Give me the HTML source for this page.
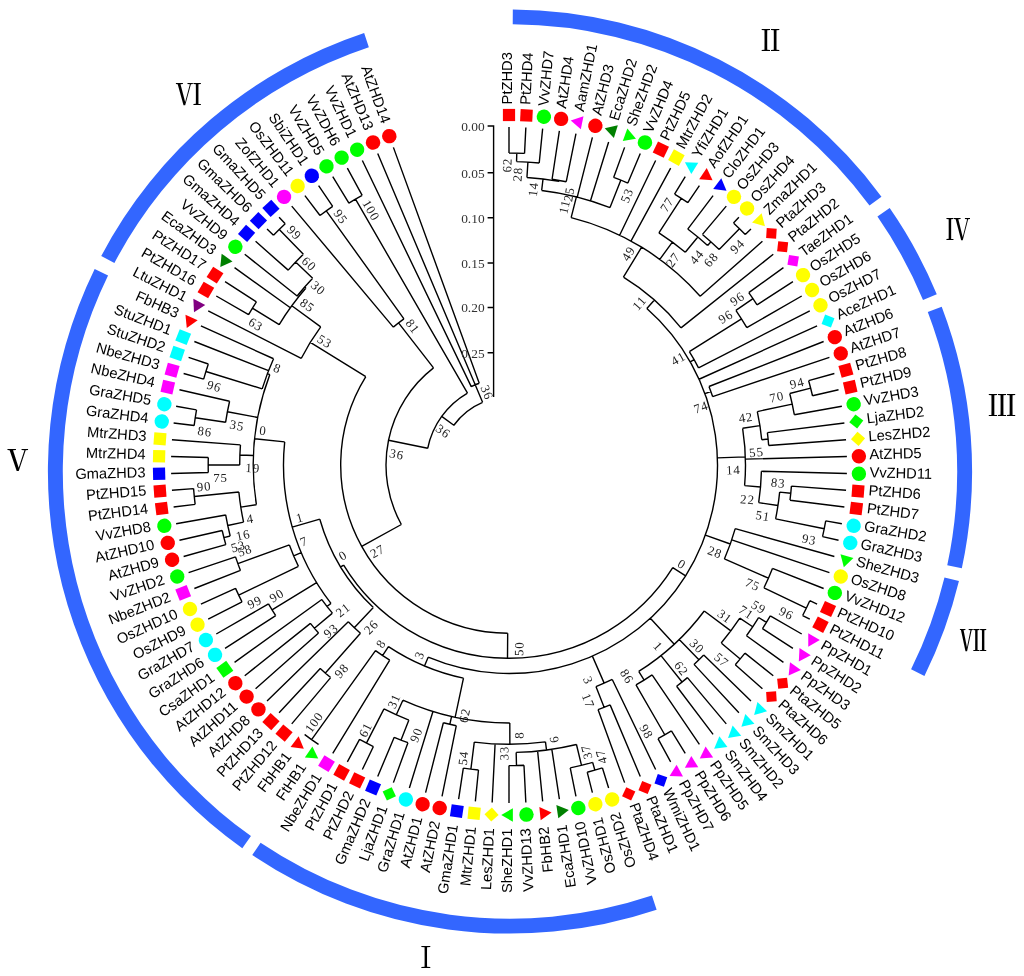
<!DOCTYPE html><html><head><meta charset="utf-8"><style>html,body{margin:0;padding:0;background:#fff;}svg{display:block}</style></head><body>
<svg width="1024" height="976" viewBox="0 0 1024 976">
<rect width="1024" height="976" fill="#fff"/>
<path fill="#3366ff" d="M512.82 9.41A462.1 462.1 0 0 1 881.46 196.63L869.48 205.5A447.2 447.2 0 0 0 512.73 24.31ZM889.68 208.1A462.1 462.1 0 0 1 936.77 294.29L923.01 300A447.2 447.2 0 0 0 877.44 216.6ZM941.7 306.65A462.1 462.1 0 0 1 961.83 568.36L947.26 565.24A447.2 447.2 0 0 0 927.78 311.97ZM958.95 580.94A462.1 462.1 0 0 1 924.44 675.88L911.08 669.29A447.2 447.2 0 0 0 944.48 577.41ZM656.63 909.72A462.1 462.1 0 0 1 252.27 855.05L260.58 842.68A447.2 447.2 0 0 0 651.9 895.59ZM242.31 848.17A462.1 462.1 0 0 1 94.67 268.93L108.06 275.46A447.2 447.2 0 0 0 250.95 836.03ZM101.24 255.98A462.1 462.1 0 0 1 364.14 33.02L368.84 47.16A447.2 447.2 0 0 0 114.42 262.93Z"/>
<g font-family="'Liberation Serif','Noto Serif CJK SC',serif" font-size="29" font-weight="500" fill="#000" text-anchor="middle">
<text x="0" y="0" transform="translate(770.4 50.6) scale(0.95 1)">Ⅱ</text>
<text x="0" y="0" transform="translate(958 239.8) scale(0.85 1)">Ⅳ</text>
<text x="0" y="0" transform="translate(1002 415.5) scale(1 1)">Ⅲ</text>
<text x="0" y="0" transform="translate(973.1 650.8) scale(0.92 1)">Ⅶ</text>
<text x="0" y="0" transform="translate(425.9 968.2) scale(0.85 1)">Ⅰ</text>
<text x="0" y="0" transform="translate(17.9 471.1) scale(1.09 1)">Ⅴ</text>
<text x="0" y="0" transform="translate(188.5 105.3) scale(0.9 1)">Ⅵ</text>
</g>
<path fill="none" stroke="#000" stroke-width="1.4" d="M453.85 425.22A68 68 0 0 1 482.59 402.34M453.85 425.22L441.68 416.44M427.7 448.3A83 83 0 0 1 467.5 393.12M427.7 448.3L388.52 440.25M401.35 524.5A123 123 0 0 1 433.52 367.89M401.35 524.5L361.7 546.41M507.69 633.29A168.3 168.3 0 0 1 365.8 376.57M507.69 633.29L507.49 658.29M672.75 567.71A193.3 193.3 0 0 1 343.67 565.15M672.75 567.71L685.63 575.79M646.84 308.56A208.5 208.5 0 0 1 428.16 657.19M646.84 308.56L654.44 299.93M623.42 277.1A220 220 0 0 1 681 327.83M623.42 277.1L641.63 247.2M571.15 217.69A255 255 0 0 1 700.19 296.27M571.15 217.69L576.39 196.84M541.67 190.44A276.5 276.5 0 0 1 610.02 207.61M541.67 190.44L543.03 179.02M526.94 177.56A288 288 0 0 1 559.01 181.38M526.94 177.56L527.91 162.09M516.57 161.59A303.5 303.5 0 0 1 539.22 163.01M516.57 161.59L516.78 153.1M509 153A312 312 0 0 1 524.55 153.39M509 153L509 127M524.55 153.39L525.85 127.42M539.22 163.01L542.65 128.68M559.01 181.38L559.18 180.39M552.07 179.23A289 289 0 0 1 566.26 181.73M552.07 179.23L559.38 130.78M566.26 181.73L575.97 133.7M577.23 197.05L592.4 137.45M590.5 200.78L608.63 142.02M610.02 207.61L620.79 180.15M613.66 177.45A306 306 0 0 1 627.86 183.03M613.66 177.45L624.6 147.38M627.86 183.03L640.29 153.54M619.64 235.25L655.65 160.47M630.95 241.05L670.65 168.16M659.78 259.36L672.38 242.18M658.91 232.9A276.3 276.3 0 0 1 685.28 252.24M658.91 232.9L681.26 198.29M674.56 194.08A317.5 317.5 0 0 1 687.85 202.67M674.56 194.08L685.25 176.59M687.85 202.67L699.4 185.73M685.28 252.24L697.85 237.07M687.73 229.05A296 296 0 0 1 707.61 245.52M687.73 229.05L713.09 195.57M707.61 245.52L710.97 241.82M702.48 234.42A301 301 0 0 1 719.17 249.52M702.48 234.42L726.26 206.08M719.17 249.52L739.42 228.76M733.46 223.09A330 330 0 0 1 745.24 234.58M733.46 223.09L738.9 217.23M745.24 234.58L750.96 229M700.19 296.27L762.43 241.35M681 327.83L773.26 254.26M690.21 361.88L694.12 359.65M689.35 351.68A213 213 0 0 1 698.54 367.83M689.35 351.68L741.51 318.9M735.89 310.31A274.6 274.6 0 0 1 746.81 327.7M735.89 310.31L752.99 298.65M748.77 292.62A295.3 295.3 0 0 1 757.06 304.79M748.77 292.62L783.44 267.69M757.06 304.79L792.93 281.62M746.81 327.7L801.72 296M698.54 367.83L809.78 310.8M699.05 379.25L817.09 325.98M704.93 393.69L710.85 391.53M708.95 386.52A214.8 214.8 0 0 1 712.61 396.59M708.95 386.52L823.64 341.51M712.61 396.59L829.4 357.35M717.38 457.85L745.36 456.89M742.63 428.29A236.5 236.5 0 0 1 744.6 485.61M742.63 428.29L759.92 425.58M757.32 411.57A254 254 0 0 1 761.74 439.71M757.32 411.57L792.22 404.06M789.74 393.51A289.7 289.7 0 0 1 794.3 414.69M789.74 393.51L810.67 388.18M808.66 380.69A311.3 311.3 0 0 1 812.5 395.73M808.66 380.69L834.37 373.46M812.5 395.73L838.53 389.79M794.3 414.69L841.87 406.31M761.74 439.71L768.11 439.07M767.38 432.62A260.4 260.4 0 0 1 768.67 445.54M767.38 432.62L844.38 422.97M768.67 445.54L846.05 439.74M745.43 459.1L846.89 456.57M744.6 485.61L760.54 487.01M761.42 471.29A252.5 252.5 0 0 1 758.68 502.63M761.42 471.29L846.89 473.43M758.68 502.63L777.96 505.54M779.65 492.08A272 272 0 0 1 775.61 518.9M779.65 492.08L790.79 493.2M791.41 486.16A283.2 283.2 0 0 1 790 500.21M791.41 486.16L846.05 490.26M790 500.21L844.38 507.03M775.61 518.9L824.22 528.72M825.71 520.85A321.6 321.6 0 0 1 822.54 536.56M825.71 520.85L841.87 523.69M822.54 536.56L838.53 540.21M705.37 535.09L730.32 544M735.22 528.65A235 235 0 0 1 724.39 558.97M735.22 528.65L834.37 556.54M731.76 539.84L829.4 572.65M724.39 558.97L768.39 578.17M772.44 568.39A283 283 0 0 1 763.97 587.79M772.44 568.39L823.64 588.49M763.97 587.79L806.32 608.18M809.8 600.72A330 330 0 0 1 802.66 615.55M809.8 600.72L817.09 604.02M802.66 615.55L809.78 619.2M650.34 618.28L674.27 644.23M704.25 610.99A243.8 243.8 0 0 1 638.71 671.43M704.25 610.99L730.84 630.87M739.8 618.17A277 277 0 0 1 721.19 643.05M739.8 618.17L752.71 626.75M758.59 617.52A292.5 292.5 0 0 1 746.49 635.75M758.59 617.52L766.44 622.32M770.28 615.85A301.7 301.7 0 0 1 762.44 628.69M770.28 615.85L801.72 634M762.44 628.69L792.93 648.38M746.49 635.75L783.44 662.31M721.19 643.05L740.19 658.99M744.96 653.17A301.8 301.8 0 0 1 735.28 664.7M744.96 653.17L773.26 675.74M735.28 664.7L762.43 688.65M679.23 639.53L698.92 659.72M703.72 654.92A272 272 0 0 1 694.01 664.39M703.72 654.92L750.96 701M694.01 664.39L738.9 712.77M661.01 655.61L682.08 682.04M687.44 677.65A277.6 277.6 0 0 1 676.62 686.28M687.44 677.65L726.26 723.92M676.62 686.28L713.09 734.43M638.71 671.43L644.14 680.07M652.08 674.86A254 254 0 0 1 636 684.97M652.08 674.86L699.4 744.27M636 684.97L664.75 734.77M671.43 730.8A311.5 311.5 0 0 1 657.98 738.57M671.43 730.8L685.25 753.41M657.98 738.57L670.65 761.84M592.38 656.1L604.17 683.14M612.26 679.43A238 238 0 0 1 595.95 686.55M612.26 679.43L655.65 769.53M595.95 686.55L604.1 707.31M610.11 704.86A260.3 260.3 0 0 1 598.03 709.6M610.11 704.86L640.29 776.46M598.03 709.6L624.6 782.62M428.16 657.19L424.48 665.95M463.48 678.19A218 218 0 0 1 388.45 646.64M463.48 678.19L455.12 717.31M509.8 723A258 258 0 0 1 402.89 700.17M509.8 723L509.87 744.3M545.46 741.91A279.3 279.3 0 0 1 474.27 742.13M545.46 741.91L546.53 750.04M576.46 744.47A287.5 287.5 0 0 1 516.17 752.41M576.46 744.47L581.51 765.37M592.69 762.45A309 309 0 0 1 570.23 767.87M592.69 762.45L594.86 770.15M602.44 767.92A317 317 0 0 1 587.22 772.2M602.44 767.92L608.63 787.98M587.22 772.2L592.4 792.55M570.23 767.87L575.97 796.3M551.85 749.29L559.38 799.22M537.63 751.07L542.65 801.32M516.17 752.41L516.49 765.51M523.98 765.23A300.6 300.6 0 0 1 509 765.6M523.98 765.23L525.85 802.58M509 765.6L509 803M495.08 743.95L492.15 802.58M474.27 742.13L470.89 769.12M478.48 769.98A306.5 306.5 0 0 1 463.32 768.08M478.48 769.98L475.35 801.32M463.32 768.08L458.62 799.22M451.59 716.53L449.81 724.33M456.29 725.73A266 266 0 0 1 443.36 722.77M456.29 725.73L442.03 796.3M443.36 722.77L425.6 792.55M432.95 711.54L409.37 787.98M402.89 700.17L396.31 714.75M408.9 720.06A274 274 0 0 1 384 708.82M408.9 720.06L401.04 740.07M407.93 742.68A295.5 295.5 0 0 1 394.22 737.3M407.93 742.68L393.4 782.62M394.22 737.3L377.71 776.46M384 708.82L366.43 743.08M373.41 746.55A312.5 312.5 0 0 1 359.55 739.44M373.41 746.55L362.35 769.53M359.55 739.44L347.35 761.84M388.45 646.64L382.53 655.55M389.75 660.15A228.7 228.7 0 0 1 375.5 650.69M389.75 660.15L332.75 753.41M375.5 650.69L311.58 739.6M318.49 744.43A338.2 338.2 0 0 1 304.79 734.59M318.49 744.43L318.6 744.27M304.79 734.59L304.91 734.43M343.67 565.15L340.67 566.96M373.35 607.58A196.8 196.8 0 0 1 319.81 519.19M373.35 607.58L354.26 627.65M360.45 633.33A224.5 224.5 0 0 1 348.29 621.75M360.45 633.33L325.38 673.06M330.63 677.58A277.5 277.5 0 0 1 320.25 668.42M330.63 677.58L291.74 723.92M320.25 668.42L279.1 712.77M348.29 621.75L267.04 701M319.81 519.19L292.22 527.09M330.96 603.39A225.5 225.5 0 0 1 284.69 441.85M330.96 603.39L327.01 606.46M332.43 613.16A230.5 230.5 0 0 1 321.85 599.55M332.43 613.16L314.42 628.27M318.56 633.07A254 254 0 0 1 310.41 623.37M318.56 633.07L255.57 688.65M310.41 623.37L244.74 675.74M321.85 599.55L234.56 662.31M316.58 582.58L272.04 609.8M275.72 615.67A277.7 277.7 0 0 1 268.5 603.85M275.72 615.67L225.07 648.38M268.5 603.85L216.28 634M301.21 552.59L293.65 555.78M298.44 566.4A233.7 233.7 0 0 1 289.39 544.93M298.44 566.4L238.71 595.17M242.04 601.86A300 300 0 0 1 235.55 588.39M242.04 601.86L208.22 619.2M235.55 588.39L200.91 604.02M289.39 544.93L237.9 563.67M240.44 570.4A288.5 288.5 0 0 1 235.52 556.88M240.44 570.4L194.36 588.49M235.52 556.88L188.6 572.65M284.69 441.85L254.65 438.75M256.4 504.69A255.7 255.7 0 0 1 269.83 374.56M256.4 504.69L240.79 507.14M243.57 522.11A271.5 271.5 0 0 1 238.85 492.03M243.57 522.11L227.74 525.52M230.2 535.99A287.7 287.7 0 0 1 225.67 514.96M230.2 535.99L223.9 537.6M225.8 544.68A294.2 294.2 0 0 1 222.18 530.47M225.8 544.68L183.63 556.54M222.18 530.47L179.47 540.21M225.67 514.96L176.13 523.69M238.85 492.03L194.27 496.49M195.15 504.33A316.3 316.3 0 0 1 193.58 488.64M195.15 504.33L173.62 507.03M193.58 488.64L171.95 490.26M253.48 455.44L239.89 454.93M239.7 465A269.3 269.3 0 0 1 240.45 444.88M239.7 465L208.2 465M208.29 472.5A300.8 300.8 0 0 1 208.29 457.5M208.29 472.5L171.11 473.43M208.29 457.5L171.11 456.57M240.45 444.88L171.95 439.74M257.76 417.46L227.4 411.72M225.6 422.28A286.6 286.6 0 0 1 229.59 401.23M225.6 422.28L195.24 417.71M194.16 425.55A317.3 317.3 0 0 1 196.52 409.9M194.16 425.55L173.62 422.97M196.52 409.9L176.13 406.31M229.59 401.23L179.47 389.79M269.83 374.56L267.4 373.64M262.18 388.86A258.3 258.3 0 0 1 273.56 358.76M262.18 388.86L205.89 371.5M203.66 379.09A317.2 317.2 0 0 1 208.32 363.98M203.66 379.09L183.63 373.46M208.32 363.98L188.6 357.35M268.56 370.63L194.36 341.51M273.56 358.76L200.91 325.98M365.8 376.57L310.33 342.31M301.21 358.47A233.5 233.5 0 0 1 320.7 326.93M301.21 358.47L208.22 310.8M320.7 326.93L291.82 305.76M279.21 324.58A269.3 269.3 0 0 1 305.98 288.07M279.21 324.58L252.42 308.2M248.59 314.65A300.7 300.7 0 0 1 256.4 301.86M248.59 314.65L216.28 296M256.4 301.86L225.07 281.62M290.35 307.8L234.56 267.69M305.98 288.07L304.7 286.95M297.12 296.03A271 271 0 0 1 312.66 278.21M297.12 296.03L244.74 254.26M312.66 278.21L295.63 262.01M288.19 270.13A294.5 294.5 0 0 1 303.37 254.18M288.19 270.13L255.57 241.35M303.37 254.18L279.28 229.48M273.48 235.28A329 329 0 0 1 285.22 223.83M273.48 235.28L267.04 229M285.22 223.83L279.1 217.23M433.52 367.89L398.53 322.88M393.3 327.11A180 180 0 0 1 403.93 318.85M393.3 327.11L291.74 206.08M403.93 318.85L326.29 210.86M320.01 215.5A313 313 0 0 1 332.68 206.39M320.01 215.5L304.91 195.57M332.68 206.39L318.6 185.73M467.5 393.12L355.5 199.13M348.92 203.04A307 307 0 0 1 362.18 195.39M348.92 203.04L332.75 176.59M362.18 195.39L347.35 168.16M482.59 402.34L475.21 384.83M471.25 386.62A87 87 0 0 1 479.24 383.25M471.25 386.62L362.35 160.47M475.21 384.83L377.71 153.54M479.24 383.25L393.4 147.38"/>
<path fill="none" stroke="#000" stroke-width="1.4" d="M493.6 125.3L493.6 397M487.6 126L493.6 126M487.6 172.7L493.6 172.7M487.6 217.8L493.6 217.8M487.6 263L493.6 263M487.6 307.5L493.6 307.5M487.6 352.8L493.6 352.8"/>
<g font-family="'Liberation Serif',serif" font-size="13.4" fill="#333" text-anchor="end">
<text x="484.6" y="130.9">0.00</text>
<text x="484.6" y="177.6">0.05</text>
<text x="484.6" y="222.7">0.10</text>
<text x="484.6" y="267.9">0.15</text>
<text x="484.6" y="312.4">0.20</text>
<text x="484.6" y="357.7">0.25</text>
</g>
<g font-family="'Liberation Serif',serif" font-size="12.8" fill="#222" letter-spacing="0.9" text-anchor="middle">
<text x="443.42" y="431.15" dy="0.35em" transform="rotate(395.8 443.42 431.15)">36</text>
<text x="396.94" y="454.01" dy="0.35em" transform="rotate(371.61 396.94 454.01)">36</text>
<text x="377.46" y="551.08" dy="0.35em" transform="rotate(331.07 377.46 551.08)">27</text>
<text x="518.95" y="648.63" dy="0.35em" transform="rotate(270.45 518.95 648.63)">50</text>
<text x="681.95" y="564.05" dy="0.35em" transform="rotate(32.1 681.95 564.05)">0</text>
<text x="639.33" y="302.9" dy="0.35em" transform="rotate(-48.62 639.33 302.9)">11</text>
<text x="628.19" y="253.47" dy="0.35em" transform="rotate(-58.66 628.19 253.47)">49</text>
<text x="564.31" y="206.55" dy="0.35em" transform="rotate(-75.89 564.31 206.55)">11</text>
<text x="533.12" y="189.25" dy="0.35em" transform="rotate(-83.21 533.12 189.25)">14</text>
<text x="517.48" y="174.12" dy="0.35em" transform="rotate(-86.43 517.48 174.12)">28</text>
<text x="506.91" y="165.11" dy="0.35em" transform="rotate(-88.57 506.91 165.11)">62</text>
<text x="568.92" y="194.25" dy="0.35em" transform="rotate(-80 568.92 194.25)">25</text>
<text x="626.82" y="195.31" dy="0.35em" transform="rotate(-68.57 626.82 195.31)">53</text>
<text x="672.89" y="259.69" dy="0.35em" transform="rotate(-53.75 672.89 259.69)">27</text>
<text x="666.84" y="204.37" dy="0.35em" transform="rotate(-57.14 666.84 204.37)">77</text>
<text x="696.56" y="256.7" dy="0.35em" transform="rotate(-50.36 696.56 256.7)">44</text>
<text x="710.86" y="259.58" dy="0.35em" transform="rotate(-47.86 710.86 259.58)">68</text>
<text x="737.22" y="246.14" dy="0.35em" transform="rotate(-45.71 737.22 246.14)">94</text>
<text x="678.24" y="358.42" dy="0.35em" transform="rotate(-29.64 678.24 358.42)">41</text>
<text x="725.59" y="316.7" dy="0.35em" transform="rotate(-32.14 725.59 316.7)">96</text>
<text x="737.18" y="298.61" dy="0.35em" transform="rotate(-34.29 737.18 298.61)">96</text>
<text x="701.04" y="407.02" dy="0.35em" transform="rotate(-20 701.04 407.02)">74</text>
<text x="733.45" y="469.7" dy="0.35em" transform="rotate(-1.96 733.45 469.7)">14</text>
<text x="745.93" y="417.23" dy="0.35em" transform="rotate(-8.93 745.93 417.23)">42</text>
<text x="776.74" y="396.75" dy="0.35em" transform="rotate(-12.14 776.74 396.75)">70</text>
<text x="797.04" y="382.95" dy="0.35em" transform="rotate(-14.29 797.04 382.95)">94</text>
<text x="756.46" y="452.03" dy="0.35em" transform="rotate(-5.71 756.46 452.03)">55</text>
<text x="747.54" y="499.37" dy="0.35em" transform="rotate(5 747.54 499.37)">22</text>
<text x="762.88" y="515.73" dy="0.35em" transform="rotate(8.57 762.88 515.73)">51</text>
<text x="778.31" y="482.89" dy="0.35em" transform="rotate(5.71 778.31 482.89)">83</text>
<text x="809.24" y="539.3" dy="0.35em" transform="rotate(11.43 809.24 539.3)">93</text>
<text x="715.07" y="552.05" dy="0.35em" transform="rotate(19.64 715.07 552.05)">28</text>
<text x="752.81" y="584.44" dy="0.35em" transform="rotate(23.57 752.81 584.44)">75</text>
<text x="786.52" y="613.18" dy="0.35em" transform="rotate(25.71 786.52 613.18)">96</text>
<text x="658.35" y="646.18" dy="0.35em" transform="rotate(47.32 658.35 646.18)">1</text>
<text x="724.93" y="616.19" dy="0.35em" transform="rotate(36.79 724.93 616.19)">31</text>
<text x="746.38" y="612.18" dy="0.35em" transform="rotate(33.57 746.38 612.18)">71</text>
<text x="758.89" y="606.96" dy="0.35em" transform="rotate(31.43 758.89 606.96)">59</text>
<text x="721.63" y="659.84" dy="0.35em" transform="rotate(40 721.63 659.84)">57</text>
<text x="697.14" y="646.05" dy="0.35em" transform="rotate(45.71 697.14 646.05)">30</text>
<text x="681.56" y="668.48" dy="0.35em" transform="rotate(51.43 681.56 668.48)">62</text>
<text x="627.11" y="676.33" dy="0.35em" transform="rotate(57.86 627.11 676.33)">86</text>
<text x="646.59" y="731.59" dy="0.35em" transform="rotate(60 646.59 731.59)">98</text>
<text x="588.25" y="680.38" dy="0.35em" transform="rotate(66.43 588.25 680.38)">3</text>
<text x="588.36" y="700.8" dy="0.35em" transform="rotate(68.57 588.36 700.8)">17</text>
<text x="419.3" y="654.77" dy="0.35em" transform="rotate(292.81 419.3 654.77)">3</text>
<text x="518.9" y="735.12" dy="0.35em" transform="rotate(269.82 518.9 735.12)">8</text>
<text x="553.91" y="739.25" dy="0.35em" transform="rotate(262.5 553.91 739.25)">6</text>
<text x="586.45" y="752.04" dy="0.35em" transform="rotate(256.43 586.45 752.04)">37</text>
<text x="601.21" y="756.57" dy="0.35em" transform="rotate(254.29 601.21 756.57)">47</text>
<text x="503.97" y="753.06" dy="0.35em" transform="rotate(268.57 503.97 753.06)">33</text>
<text x="463.11" y="758.03" dy="0.35em" transform="rotate(277.14 463.11 758.03)">54</text>
<text x="464.4" y="715.36" dy="0.35em" transform="rotate(282.86 464.4 715.36)">62</text>
<text x="393.93" y="700.93" dy="0.35em" transform="rotate(294.29 393.93 700.93)">31</text>
<text x="416.12" y="734.76" dy="0.35em" transform="rotate(291.43 416.12 734.76)">90</text>
<text x="365.23" y="729.79" dy="0.35em" transform="rotate(297.14 365.23 729.79)">61</text>
<text x="380.68" y="643.58" dy="0.35em" transform="rotate(303.57 380.68 643.58)">8</text>
<text x="313.9" y="722.04" dy="0.35em" transform="rotate(305.71 313.9 722.04)">100</text>
<text x="342.9" y="555.18" dy="0.35em" transform="rotate(328.79 342.9 555.18)">0</text>
<text x="371.14" y="626.98" dy="0.35em" transform="rotate(313.57 371.14 626.98)">26</text>
<text x="341.45" y="670.44" dy="0.35em" transform="rotate(311.43 341.45 670.44)">98</text>
<text x="299.8" y="517.55" dy="0.35em" transform="rotate(344.02 299.8 517.55)">1</text>
<text x="343.07" y="609.75" dy="0.35em" transform="rotate(322.14 343.07 609.75)">21</text>
<text x="330.85" y="630.55" dy="0.35em" transform="rotate(320 330.85 630.55)">93</text>
<text x="276.77" y="595.32" dy="0.35em" transform="rotate(328.57 276.77 595.32)">90</text>
<text x="303.83" y="541.3" dy="0.35em" transform="rotate(337.14 303.83 541.3)">7</text>
<text x="254.54" y="602.01" dy="0.35em" transform="rotate(334.29 254.54 602.01)">99</text>
<text x="244.84" y="550.32" dy="0.35em" transform="rotate(340 244.84 550.32)">58</text>
<text x="263.22" y="430.46" dy="0.35em" transform="rotate(365.89 263.22 430.46)">0</text>
<text x="250.09" y="518.62" dy="0.35em" transform="rotate(351.07 250.09 518.62)">4</text>
<text x="243.1" y="534.76" dy="0.35em" transform="rotate(347.86 243.1 534.76)">16</text>
<text x="238.22" y="546.24" dy="0.35em" transform="rotate(345.71 238.22 546.24)">53</text>
<text x="204.04" y="486.32" dy="0.35em" transform="rotate(354.29 204.04 486.32)">90</text>
<text x="252.81" y="467.68" dy="0.35em" transform="rotate(362.14 252.81 467.68)">19</text>
<text x="220.47" y="477.6" dy="0.35em" transform="rotate(360 220.47 477.6)">75</text>
<text x="237.08" y="425.33" dy="0.35em" transform="rotate(370.71 237.08 425.33)">35</text>
<text x="204.95" y="431.43" dy="0.35em" transform="rotate(368.57 204.95 431.43)">86</text>
<text x="277.44" y="368.14" dy="0.35em" transform="rotate(380.71 277.44 368.14)">8</text>
<text x="214.39" y="386.06" dy="0.35em" transform="rotate(377.14 214.39 386.06)">96</text>
<text x="324.82" y="341.24" dy="0.35em" transform="rotate(391.7 324.82 341.24)">53</text>
<text x="307.43" y="305.24" dy="0.35em" transform="rotate(396.25 307.43 305.24)">85</text>
<text x="255.96" y="324.16" dy="0.35em" transform="rotate(391.43 255.96 324.16)">63</text>
<text x="318.39" y="287.88" dy="0.35em" transform="rotate(401.07 318.39 287.88)">30</text>
<text x="309.24" y="263.84" dy="0.35em" transform="rotate(403.57 309.24 263.84)">60</text>
<text x="294.57" y="232.62" dy="0.35em" transform="rotate(405.71 294.57 232.62)">99</text>
<text x="412.91" y="326.22" dy="0.35em" transform="rotate(412.14 412.91 326.22)">81</text>
<text x="340.81" y="216.58" dy="0.35em" transform="rotate(414.29 340.81 216.58)">95</text>
<text x="371.26" y="210.25" dy="0.35em" transform="rotate(420 371.26 210.25)">100</text>
<text x="487.12" y="392.53" dy="0.35em" transform="rotate(427.14 487.12 392.53)">36</text>
</g>
<g>
<rect x="-6.1" y="-6.1" width="12.2" height="12.2" fill="#ff0000" transform="translate(509 115) rotate(0)"/>
<rect x="-6.1" y="-6.1" width="12.2" height="12.2" fill="#ff0000" transform="translate(526.45 115.44) rotate(2.86)"/>
<circle r="7.2" fill="#00ff00" transform="translate(543.85 116.74) rotate(5.71)"/>
<circle r="7.2" fill="#ff0000" transform="translate(561.16 118.91) rotate(8.57)"/>
<polygon points="3.87,-6.7 -7.74,0 3.87,6.7" fill="#ff00ff" transform="translate(578.35 121.94) rotate(11.43)"/>
<circle r="7.2" fill="#ff0000" transform="translate(595.37 125.82) rotate(14.29)"/>
<polygon points="3.87,-6.7 -7.74,0 3.87,6.7" fill="#008000" transform="translate(612.16 130.55) rotate(17.14)"/>
<polygon points="-3.87,-6.7 7.74,0 -3.87,6.7" fill="#00ff00" transform="translate(628.71 136.11) rotate(20)"/>
<circle r="7.2" fill="#00ff00" transform="translate(644.95 142.48) rotate(22.86)"/>
<rect x="-6.1" y="-6.1" width="12.2" height="12.2" fill="#ff0000" transform="translate(660.86 149.66) rotate(25.71)"/>
<rect x="-6.1" y="-6.1" width="12.2" height="12.2" fill="#ffff00" transform="translate(676.39 157.62) rotate(28.57)"/>
<polygon points="3.87,-6.7 -7.74,0 3.87,6.7" fill="#00ffff" transform="translate(691.5 166.35) rotate(31.43)"/>
<polygon points="-3.87,-6.7 7.74,0 -3.87,6.7" fill="#ff0000" transform="translate(706.16 175.82) rotate(34.29)"/>
<polygon points="-3.87,-6.7 7.74,0 -3.87,6.7" fill="#0000ff" transform="translate(720.33 186) rotate(37.14)"/>
<circle r="7.2" fill="#ffff00" transform="translate(733.98 196.88) rotate(40)"/>
<circle r="7.2" fill="#ffff00" transform="translate(747.06 208.43) rotate(42.86)"/>
<polygon points="-3.87,-6.7 7.74,0 -3.87,6.7" fill="#ffff00" transform="translate(759.55 220.62) rotate(45.71)"/>
<rect x="-5" y="-5" width="10" height="10" fill="#ff0000" transform="translate(771.42 233.41) rotate(48.57) rotate(45)"/>
<rect x="-5" y="-5" width="10" height="10" fill="#ff0000" transform="translate(782.64 246.78) rotate(51.43) rotate(45)"/>
<rect x="-5" y="-5" width="10" height="10" fill="#ff00ff" transform="translate(793.18 260.69) rotate(54.29) rotate(45)"/>
<circle r="7.2" fill="#ffff00" transform="translate(803.01 275.11) rotate(57.14)"/>
<circle r="7.2" fill="#ffff00" transform="translate(812.11 290) rotate(60)"/>
<circle r="7.2" fill="#ffff00" transform="translate(820.46 305.33) rotate(62.86)"/>
<rect x="-5" y="-5" width="10" height="10" fill="#00ffff" transform="translate(828.03 321.05) rotate(65.71) rotate(45)"/>
<circle r="7.2" fill="#ff0000" transform="translate(834.81 337.13) rotate(68.57)"/>
<circle r="7.2" fill="#ff0000" transform="translate(840.77 353.53) rotate(71.43)"/>
<rect x="-6.1" y="-6.1" width="12.2" height="12.2" fill="#ff0000" transform="translate(845.92 370.21) rotate(74.29)"/>
<rect x="-6.1" y="-6.1" width="12.2" height="12.2" fill="#ff0000" transform="translate(850.22 387.12) rotate(77.14)"/>
<circle r="7.2" fill="#00ff00" transform="translate(853.68 404.22) rotate(80)"/>
<rect x="-5" y="-5" width="10" height="10" fill="#00ff00" transform="translate(856.28 421.48) rotate(82.86) rotate(45)"/>
<rect x="-5" y="-5" width="10" height="10" fill="#ffff00" transform="translate(858.02 438.84) rotate(85.71) rotate(45)"/>
<circle r="7.2" fill="#ff0000" transform="translate(858.89 456.27) rotate(88.57)"/>
<circle r="7.2" fill="#00ff00" transform="translate(858.89 473.73) rotate(91.43)"/>
<rect x="-6.1" y="-6.1" width="12.2" height="12.2" fill="#ff0000" transform="translate(858.02 491.16) rotate(94.29)"/>
<rect x="-6.1" y="-6.1" width="12.2" height="12.2" fill="#ff0000" transform="translate(856.28 508.52) rotate(97.14)"/>
<circle r="7.2" fill="#00ffff" transform="translate(853.68 525.78) rotate(100)"/>
<circle r="7.2" fill="#00ffff" transform="translate(850.22 542.88) rotate(102.86)"/>
<polygon points="-3.87,-6.7 7.74,0 -3.87,6.7" fill="#00ff00" transform="translate(845.92 559.79) rotate(105.71)"/>
<circle r="7.2" fill="#ffff00" transform="translate(840.77 576.47) rotate(108.57)"/>
<circle r="7.2" fill="#00ff00" transform="translate(834.81 592.87) rotate(111.43)"/>
<rect x="-6.1" y="-6.1" width="12.2" height="12.2" fill="#ff0000" transform="translate(828.03 608.95) rotate(114.29)"/>
<rect x="-6.1" y="-6.1" width="12.2" height="12.2" fill="#ff0000" transform="translate(820.46 624.67) rotate(117.14)"/>
<polygon points="-3.87,-6.7 7.74,0 -3.87,6.7" fill="#ff00ff" transform="translate(812.11 640) rotate(120)"/>
<polygon points="-3.87,-6.7 7.74,0 -3.87,6.7" fill="#ff00ff" transform="translate(803.01 654.89) rotate(122.86)"/>
<polygon points="-3.87,-6.7 7.74,0 -3.87,6.7" fill="#ff00ff" transform="translate(793.18 669.31) rotate(125.71)"/>
<rect x="-5" y="-5" width="10" height="10" fill="#ff0000" transform="translate(782.64 683.22) rotate(128.57) rotate(45)"/>
<rect x="-5" y="-5" width="10" height="10" fill="#ff0000" transform="translate(771.42 696.59) rotate(131.43) rotate(45)"/>
<polygon points="-3.87,-6.7 7.74,0 -3.87,6.7" fill="#00ffff" transform="translate(759.55 709.38) rotate(134.29)"/>
<polygon points="-3.87,-6.7 7.74,0 -3.87,6.7" fill="#00ffff" transform="translate(747.06 721.57) rotate(137.14)"/>
<polygon points="-3.87,-6.7 7.74,0 -3.87,6.7" fill="#00ffff" transform="translate(733.98 733.12) rotate(140)"/>
<polygon points="-3.87,-6.7 7.74,0 -3.87,6.7" fill="#00ffff" transform="translate(720.33 744) rotate(142.86)"/>
<polygon points="-3.87,-6.7 7.74,0 -3.87,6.7" fill="#ff00ff" transform="translate(706.16 754.18) rotate(145.71)"/>
<polygon points="-3.87,-6.7 7.74,0 -3.87,6.7" fill="#ff00ff" transform="translate(691.5 763.65) rotate(148.57)"/>
<polygon points="-3.87,-6.7 7.74,0 -3.87,6.7" fill="#ff00ff" transform="translate(676.39 772.38) rotate(151.43)"/>
<rect x="-5" y="-5" width="10" height="10" fill="#0000ff" transform="translate(660.86 780.34) rotate(154.29) rotate(45)"/>
<rect x="-5" y="-5" width="10" height="10" fill="#ff0000" transform="translate(644.95 787.52) rotate(157.14) rotate(45)"/>
<rect x="-5" y="-5" width="10" height="10" fill="#ff0000" transform="translate(628.71 793.89) rotate(160) rotate(45)"/>
<circle r="7.2" fill="#ffff00" transform="translate(612.16 799.45) rotate(162.86)"/>
<circle r="7.2" fill="#ffff00" transform="translate(595.37 804.18) rotate(165.71)"/>
<circle r="7.2" fill="#00ff00" transform="translate(578.35 808.06) rotate(168.57)"/>
<polygon points="3.87,-6.7 -7.74,0 3.87,6.7" fill="#008000" transform="translate(561.16 811.09) rotate(171.43)"/>
<polygon points="3.87,-6.7 -7.74,0 3.87,6.7" fill="#ff0000" transform="translate(543.85 813.26) rotate(174.29)"/>
<circle r="7.2" fill="#00ff00" transform="translate(526.45 814.56) rotate(177.14)"/>
<polygon points="-3.87,-6.7 7.74,0 -3.87,6.7" fill="#00ff00" transform="translate(509 815) rotate(180)"/>
<rect x="-5" y="-5" width="10" height="10" fill="#ffff00" transform="translate(491.55 814.56) rotate(182.86) rotate(45)"/>
<rect x="-6.1" y="-6.1" width="12.2" height="12.2" fill="#ffff00" transform="translate(474.15 813.26) rotate(185.71)"/>
<rect x="-6.1" y="-6.1" width="12.2" height="12.2" fill="#0000ff" transform="translate(456.84 811.09) rotate(188.57)"/>
<circle r="7.2" fill="#ff0000" transform="translate(439.65 808.06) rotate(191.43)"/>
<circle r="7.2" fill="#ff0000" transform="translate(422.63 804.18) rotate(194.29)"/>
<circle r="7.2" fill="#00ffff" transform="translate(405.84 799.45) rotate(197.14)"/>
<rect x="-5" y="-5" width="10" height="10" fill="#00ff00" transform="translate(389.29 793.89) rotate(200) rotate(45)"/>
<rect x="-6.1" y="-6.1" width="12.2" height="12.2" fill="#0000ff" transform="translate(373.05 787.52) rotate(202.86)"/>
<rect x="-6.1" y="-6.1" width="12.2" height="12.2" fill="#ff0000" transform="translate(357.14 780.34) rotate(205.71)"/>
<rect x="-6.1" y="-6.1" width="12.2" height="12.2" fill="#ff0000" transform="translate(341.61 772.38) rotate(208.57)"/>
<rect x="-6.1" y="-6.1" width="12.2" height="12.2" fill="#ff00ff" transform="translate(326.5 763.65) rotate(211.43)"/>
<polygon points="3.87,-6.7 -7.74,0 3.87,6.7" fill="#00ff00" transform="translate(311.84 754.18) rotate(214.29)"/>
<polygon points="3.87,-6.7 -7.74,0 3.87,6.7" fill="#ff0000" transform="translate(297.67 744) rotate(217.14)"/>
<rect x="-6.1" y="-6.1" width="12.2" height="12.2" fill="#ff0000" transform="translate(284.02 733.12) rotate(220)"/>
<rect x="-6.1" y="-6.1" width="12.2" height="12.2" fill="#ff0000" transform="translate(270.94 721.57) rotate(222.86)"/>
<circle r="7.2" fill="#ff0000" transform="translate(258.45 709.38) rotate(225.71)"/>
<circle r="7.2" fill="#ff0000" transform="translate(246.58 696.59) rotate(228.57)"/>
<circle r="7.2" fill="#ff0000" transform="translate(235.36 683.22) rotate(231.43)"/>
<rect x="-6.1" y="-6.1" width="12.2" height="12.2" fill="#00ff00" transform="translate(224.82 669.31) rotate(234.29)"/>
<circle r="7.2" fill="#00ffff" transform="translate(214.99 654.89) rotate(237.14)"/>
<circle r="7.2" fill="#00ffff" transform="translate(205.89 640) rotate(240)"/>
<circle r="7.2" fill="#ffff00" transform="translate(197.54 624.67) rotate(242.86)"/>
<circle r="7.2" fill="#ffff00" transform="translate(189.97 608.95) rotate(245.71)"/>
<rect x="-6.1" y="-6.1" width="12.2" height="12.2" fill="#ff00ff" transform="translate(183.19 592.87) rotate(248.57)"/>
<circle r="7.2" fill="#00ff00" transform="translate(177.23 576.47) rotate(251.43)"/>
<circle r="7.2" fill="#ff0000" transform="translate(172.08 559.79) rotate(254.29)"/>
<circle r="7.2" fill="#ff0000" transform="translate(167.78 542.88) rotate(257.14)"/>
<circle r="7.2" fill="#00ff00" transform="translate(164.32 525.78) rotate(260)"/>
<rect x="-6.1" y="-6.1" width="12.2" height="12.2" fill="#ff0000" transform="translate(161.72 508.52) rotate(262.86)"/>
<rect x="-6.1" y="-6.1" width="12.2" height="12.2" fill="#ff0000" transform="translate(159.98 491.16) rotate(265.71)"/>
<rect x="-6.1" y="-6.1" width="12.2" height="12.2" fill="#0000ff" transform="translate(159.11 473.73) rotate(268.57)"/>
<rect x="-6.1" y="-6.1" width="12.2" height="12.2" fill="#ffff00" transform="translate(159.11 456.27) rotate(271.43)"/>
<rect x="-6.1" y="-6.1" width="12.2" height="12.2" fill="#ffff00" transform="translate(159.98 438.84) rotate(274.29)"/>
<circle r="7.2" fill="#00ffff" transform="translate(161.72 421.48) rotate(277.14)"/>
<circle r="7.2" fill="#00ffff" transform="translate(164.32 404.22) rotate(280)"/>
<rect x="-6.1" y="-6.1" width="12.2" height="12.2" fill="#ff00ff" transform="translate(167.78 387.12) rotate(282.86)"/>
<rect x="-6.1" y="-6.1" width="12.2" height="12.2" fill="#ff00ff" transform="translate(172.08 370.21) rotate(285.71)"/>
<rect x="-6.1" y="-6.1" width="12.2" height="12.2" fill="#00ffff" transform="translate(177.23 353.53) rotate(288.57)"/>
<rect x="-6.1" y="-6.1" width="12.2" height="12.2" fill="#00ffff" transform="translate(183.19 337.13) rotate(291.43)"/>
<polygon points="3.87,-6.7 -7.74,0 3.87,6.7" fill="#ff0000" transform="translate(189.97 321.05) rotate(294.29)"/>
<polygon points="3.87,-6.7 -7.74,0 3.87,6.7" fill="#800080" transform="translate(197.54 305.33) rotate(297.14)"/>
<rect x="-6.1" y="-6.1" width="12.2" height="12.2" fill="#ff0000" transform="translate(205.89 290) rotate(300)"/>
<rect x="-6.1" y="-6.1" width="12.2" height="12.2" fill="#ff0000" transform="translate(214.99 275.11) rotate(302.86)"/>
<polygon points="3.87,-6.7 -7.74,0 3.87,6.7" fill="#008000" transform="translate(224.82 260.69) rotate(305.71)"/>
<circle r="7.2" fill="#00ff00" transform="translate(235.36 246.78) rotate(308.57)"/>
<rect x="-6.1" y="-6.1" width="12.2" height="12.2" fill="#0000ff" transform="translate(246.58 233.41) rotate(311.43)"/>
<rect x="-6.1" y="-6.1" width="12.2" height="12.2" fill="#0000ff" transform="translate(258.45 220.62) rotate(314.29)"/>
<rect x="-6.1" y="-6.1" width="12.2" height="12.2" fill="#0000ff" transform="translate(270.94 208.43) rotate(317.14)"/>
<circle r="7.2" fill="#ff00ff" transform="translate(284.02 196.88) rotate(320)"/>
<circle r="7.2" fill="#ffff00" transform="translate(297.67 186) rotate(322.86)"/>
<circle r="7.2" fill="#0000ff" transform="translate(311.84 175.82) rotate(325.71)"/>
<circle r="7.2" fill="#00ff00" transform="translate(326.5 166.35) rotate(328.57)"/>
<circle r="7.2" fill="#00ff00" transform="translate(341.61 157.62) rotate(331.43)"/>
<circle r="7.2" fill="#00ff00" transform="translate(357.14 149.66) rotate(334.29)"/>
<circle r="7.2" fill="#ff0000" transform="translate(373.05 142.48) rotate(337.14)"/>
<circle r="7.2" fill="#ff0000" transform="translate(389.29 136.11) rotate(340)"/>
</g>
<g font-family="'Liberation Sans',Arial,sans-serif" font-size="14.7" fill="#000">
<text x="509" y="104.4" dy="3.3" transform="rotate(-90 509 104.4)">PtZHD3</text>
<text x="526.97" y="104.85" dy="3.3" transform="rotate(-87.14 526.97 104.85)">PtZHD4</text>
<text x="544.9" y="106.19" dy="3.3" transform="rotate(-84.29 544.9 106.19)">VvZHD7</text>
<text x="562.74" y="108.43" dy="3.3" transform="rotate(-81.43 562.74 108.43)">AtZHD4</text>
<text x="580.45" y="111.55" dy="3.3" transform="rotate(-78.57 580.45 111.55)">AamZHD1</text>
<text x="597.98" y="115.55" dy="3.3" transform="rotate(-75.71 597.98 115.55)">AtZHD3</text>
<text x="615.29" y="120.42" dy="3.3" transform="rotate(-72.86 615.29 120.42)">EcaZHD2</text>
<text x="632.33" y="126.15" dy="3.3" transform="rotate(-70 632.33 126.15)">SheZHD2</text>
<text x="649.07" y="132.72" dy="3.3" transform="rotate(-67.14 649.07 132.72)">VvZHD4</text>
<text x="665.46" y="140.11" dy="3.3" transform="rotate(-64.29 665.46 140.11)">PtZHD5</text>
<text x="681.46" y="148.31" dy="3.3" transform="rotate(-61.43 681.46 148.31)">MtrZHD2</text>
<text x="697.03" y="157.3" dy="3.3" transform="rotate(-58.57 697.03 157.3)">YfiZHD1</text>
<text x="712.13" y="167.06" dy="3.3" transform="rotate(-55.71 712.13 167.06)">AofZHD1</text>
<text x="726.73" y="177.55" dy="3.3" transform="rotate(-52.86 726.73 177.55)">CloZHD1</text>
<text x="740.79" y="188.76" dy="3.3" transform="rotate(-50 740.79 188.76)">OsZHD3</text>
<text x="754.27" y="200.66" dy="3.3" transform="rotate(-47.14 754.27 200.66)">OsZHD4</text>
<text x="767.14" y="213.22" dy="3.3" transform="rotate(-44.29 767.14 213.22)">ZmaZHD1</text>
<text x="779.37" y="226.4" dy="3.3" transform="rotate(-41.43 779.37 226.4)">PtaZHD3</text>
<text x="790.93" y="240.17" dy="3.3" transform="rotate(-38.57 790.93 240.17)">PtaZHD2</text>
<text x="801.78" y="254.5" dy="3.3" transform="rotate(-35.71 801.78 254.5)">TaeZHD1</text>
<text x="811.91" y="269.36" dy="3.3" transform="rotate(-32.86 811.91 269.36)">OsZHD5</text>
<text x="821.29" y="284.7" dy="3.3" transform="rotate(-30 821.29 284.7)">OsZHD6</text>
<text x="829.89" y="300.49" dy="3.3" transform="rotate(-27.14 829.89 300.49)">OsZHD7</text>
<text x="837.69" y="316.69" dy="3.3" transform="rotate(-24.29 837.69 316.69)">AceZHD1</text>
<text x="844.67" y="333.26" dy="3.3" transform="rotate(-21.43 844.67 333.26)">AtZHD6</text>
<text x="850.82" y="350.15" dy="3.3" transform="rotate(-18.57 850.82 350.15)">AtZHD7</text>
<text x="856.12" y="367.33" dy="3.3" transform="rotate(-15.71 856.12 367.33)">PtZHD8</text>
<text x="860.56" y="384.76" dy="3.3" transform="rotate(-12.86 860.56 384.76)">PtZHD9</text>
<text x="864.12" y="402.38" dy="3.3" transform="rotate(-10 864.12 402.38)">VvZHD3</text>
<text x="866.8" y="420.16" dy="3.3" transform="rotate(-7.14 866.8 420.16)">LjaZHD2</text>
<text x="868.59" y="438.05" dy="3.3" transform="rotate(-4.29 868.59 438.05)">LesZHD2</text>
<text x="869.49" y="456.01" dy="3.3" transform="rotate(-1.43 869.49 456.01)">AtZHD5</text>
<text x="869.49" y="473.99" dy="3.3" transform="rotate(1.43 869.49 473.99)">VvZHD11</text>
<text x="868.59" y="491.95" dy="3.3" transform="rotate(4.29 868.59 491.95)">PtZHD6</text>
<text x="866.8" y="509.84" dy="3.3" transform="rotate(7.14 866.8 509.84)">PtZHD7</text>
<text x="864.12" y="527.62" dy="3.3" transform="rotate(10 864.12 527.62)">GraZHD2</text>
<text x="860.56" y="545.24" dy="3.3" transform="rotate(12.86 860.56 545.24)">GraZHD3</text>
<text x="856.12" y="562.67" dy="3.3" transform="rotate(15.71 856.12 562.67)">SheZHD3</text>
<text x="850.82" y="579.85" dy="3.3" transform="rotate(18.57 850.82 579.85)">OsZHD8</text>
<text x="844.67" y="596.74" dy="3.3" transform="rotate(21.43 844.67 596.74)">VvZHD12</text>
<text x="837.69" y="613.31" dy="3.3" transform="rotate(24.29 837.69 613.31)">PtZHD10</text>
<text x="829.89" y="629.51" dy="3.3" transform="rotate(27.14 829.89 629.51)">PtZHD11</text>
<text x="821.29" y="645.3" dy="3.3" transform="rotate(30 821.29 645.3)">PpZHD1</text>
<text x="811.91" y="660.64" dy="3.3" transform="rotate(32.86 811.91 660.64)">PpZHD2</text>
<text x="801.78" y="675.5" dy="3.3" transform="rotate(35.71 801.78 675.5)">PpZHD3</text>
<text x="790.93" y="689.83" dy="3.3" transform="rotate(38.57 790.93 689.83)">PtaZHD5</text>
<text x="779.37" y="703.6" dy="3.3" transform="rotate(41.43 779.37 703.6)">PtaZHD6</text>
<text x="767.14" y="716.78" dy="3.3" transform="rotate(44.29 767.14 716.78)">SmZHD1</text>
<text x="754.27" y="729.34" dy="3.3" transform="rotate(47.14 754.27 729.34)">SmZHD3</text>
<text x="740.79" y="741.24" dy="3.3" transform="rotate(50 740.79 741.24)">SmZHD2</text>
<text x="726.73" y="752.45" dy="3.3" transform="rotate(52.86 726.73 752.45)">SmZHD4</text>
<text x="712.13" y="762.94" dy="3.3" transform="rotate(55.71 712.13 762.94)">PpZHD5</text>
<text x="697.03" y="772.7" dy="3.3" transform="rotate(58.57 697.03 772.7)">PpZHD6</text>
<text x="681.46" y="781.69" dy="3.3" transform="rotate(61.43 681.46 781.69)">PpZHD7</text>
<text x="665.46" y="789.89" dy="3.3" transform="rotate(64.29 665.46 789.89)">WmiZHD1</text>
<text x="649.07" y="797.28" dy="3.3" transform="rotate(67.14 649.07 797.28)">PtaZHD1</text>
<text x="632.33" y="803.85" dy="3.3" transform="rotate(70 632.33 803.85)">PtaZHD4</text>
<text x="616.17" y="812.45" dy="3.3" text-anchor="end" transform="rotate(252.86 616.17 812.45)">OsZHD2</text>
<text x="598.72" y="817.36" dy="3.3" text-anchor="end" transform="rotate(255.71 598.72 817.36)">OsZHD1</text>
<text x="581.05" y="821.39" dy="3.3" text-anchor="end" transform="rotate(258.57 581.05 821.39)">VvZHD10</text>
<text x="563.19" y="824.54" dy="3.3" text-anchor="end" transform="rotate(261.43 563.19 824.54)">EcaZHD1</text>
<text x="545.2" y="826.79" dy="3.3" text-anchor="end" transform="rotate(264.29 545.2 826.79)">FbHB2</text>
<text x="527.12" y="828.15" dy="3.3" text-anchor="end" transform="rotate(267.14 527.12 828.15)">VvZHD13</text>
<text x="509" y="828.6" dy="3.3" text-anchor="end" transform="rotate(270 509 828.6)">SheZHD1</text>
<text x="490.88" y="828.15" dy="3.3" text-anchor="end" transform="rotate(272.86 490.88 828.15)">LesZHD1</text>
<text x="472.8" y="826.79" dy="3.3" text-anchor="end" transform="rotate(275.71 472.8 826.79)">MtrZHD1</text>
<text x="454.81" y="824.54" dy="3.3" text-anchor="end" transform="rotate(278.57 454.81 824.54)">GmaZHD1</text>
<text x="436.95" y="821.39" dy="3.3" text-anchor="end" transform="rotate(281.43 436.95 821.39)">AtZHD2</text>
<text x="419.28" y="817.36" dy="3.3" text-anchor="end" transform="rotate(284.29 419.28 817.36)">AtZHD1</text>
<text x="401.83" y="812.45" dy="3.3" text-anchor="end" transform="rotate(287.14 401.83 812.45)">GraZHD1</text>
<text x="384.64" y="806.67" dy="3.3" text-anchor="end" transform="rotate(290 384.64 806.67)">LjaZHD1</text>
<text x="367.77" y="800.05" dy="3.3" text-anchor="end" transform="rotate(292.86 367.77 800.05)">GmaZHD2</text>
<text x="351.24" y="792.59" dy="3.3" text-anchor="end" transform="rotate(295.71 351.24 792.59)">PtZHD2</text>
<text x="335.11" y="784.32" dy="3.3" text-anchor="end" transform="rotate(298.57 335.11 784.32)">PtZHD1</text>
<text x="319.41" y="775.26" dy="3.3" text-anchor="end" transform="rotate(301.43 319.41 775.26)">NbeZHD1</text>
<text x="304.18" y="765.42" dy="3.3" text-anchor="end" transform="rotate(304.29 304.18 765.42)">FtHB1</text>
<text x="289.46" y="754.84" dy="3.3" text-anchor="end" transform="rotate(307.14 289.46 754.84)">FbHB1</text>
<text x="275.28" y="743.53" dy="3.3" text-anchor="end" transform="rotate(310 275.28 743.53)">PtZHD12</text>
<text x="261.69" y="731.54" dy="3.3" text-anchor="end" transform="rotate(312.86 261.69 731.54)">PtZHD13</text>
<text x="248.71" y="718.88" dy="3.3" text-anchor="end" transform="rotate(315.71 248.71 718.88)">AtZHD8</text>
<text x="236.38" y="705.59" dy="3.3" text-anchor="end" transform="rotate(318.57 236.38 705.59)">AtZHD11</text>
<text x="224.73" y="691.7" dy="3.3" text-anchor="end" transform="rotate(321.43 224.73 691.7)">AtZHD12</text>
<text x="213.78" y="677.25" dy="3.3" text-anchor="end" transform="rotate(324.29 213.78 677.25)">CsaZHD1</text>
<text x="203.57" y="662.27" dy="3.3" text-anchor="end" transform="rotate(327.14 203.57 662.27)">GraZHD6</text>
<text x="194.11" y="646.8" dy="3.3" text-anchor="end" transform="rotate(330 194.11 646.8)">GraZHD7</text>
<text x="185.44" y="630.88" dy="3.3" text-anchor="end" transform="rotate(332.86 185.44 630.88)">OsZHD9</text>
<text x="177.58" y="614.54" dy="3.3" text-anchor="end" transform="rotate(335.71 177.58 614.54)">OsZHD10</text>
<text x="170.53" y="597.84" dy="3.3" text-anchor="end" transform="rotate(338.57 170.53 597.84)">NbeZHD2</text>
<text x="164.33" y="580.8" dy="3.3" text-anchor="end" transform="rotate(341.43 164.33 580.8)">VvZHD2</text>
<text x="158.99" y="563.48" dy="3.3" text-anchor="end" transform="rotate(344.29 158.99 563.48)">AtZHD9</text>
<text x="154.52" y="545.91" dy="3.3" text-anchor="end" transform="rotate(347.14 154.52 545.91)">AtZHD10</text>
<text x="150.92" y="528.14" dy="3.3" text-anchor="end" transform="rotate(350 150.92 528.14)">VvZHD8</text>
<text x="148.22" y="510.21" dy="3.3" text-anchor="end" transform="rotate(352.86 148.22 510.21)">PtZHD14</text>
<text x="146.42" y="492.17" dy="3.3" text-anchor="end" transform="rotate(355.71 146.42 492.17)">PtZHD15</text>
<text x="145.51" y="474.06" dy="3.3" text-anchor="end" transform="rotate(358.57 145.51 474.06)">GmaZHD3</text>
<text x="145.51" y="455.94" dy="3.3" text-anchor="end" transform="rotate(361.43 145.51 455.94)">MtrZHD4</text>
<text x="146.42" y="437.83" dy="3.3" text-anchor="end" transform="rotate(364.29 146.42 437.83)">MtrZHD3</text>
<text x="148.22" y="419.79" dy="3.3" text-anchor="end" transform="rotate(367.14 148.22 419.79)">GraZHD4</text>
<text x="150.92" y="401.86" dy="3.3" text-anchor="end" transform="rotate(370 150.92 401.86)">GraZHD5</text>
<text x="154.52" y="384.09" dy="3.3" text-anchor="end" transform="rotate(372.86 154.52 384.09)">NbeZHD4</text>
<text x="158.99" y="366.52" dy="3.3" text-anchor="end" transform="rotate(375.71 158.99 366.52)">NbeZHD3</text>
<text x="164.33" y="349.2" dy="3.3" text-anchor="end" transform="rotate(378.57 164.33 349.2)">StuZHD2</text>
<text x="170.53" y="332.16" dy="3.3" text-anchor="end" transform="rotate(381.43 170.53 332.16)">StuZHD1</text>
<text x="177.58" y="315.46" dy="3.3" text-anchor="end" transform="rotate(384.29 177.58 315.46)">FbHB3</text>
<text x="185.44" y="299.12" dy="3.3" text-anchor="end" transform="rotate(387.14 185.44 299.12)">LtuZHD1</text>
<text x="194.11" y="283.2" dy="3.3" text-anchor="end" transform="rotate(390 194.11 283.2)">PtZHD16</text>
<text x="203.57" y="267.73" dy="3.3" text-anchor="end" transform="rotate(392.86 203.57 267.73)">PtZHD17</text>
<text x="213.78" y="252.75" dy="3.3" text-anchor="end" transform="rotate(395.71 213.78 252.75)">EcaZHD3</text>
<text x="224.73" y="238.3" dy="3.3" text-anchor="end" transform="rotate(398.57 224.73 238.3)">VvZHD9</text>
<text x="236.38" y="224.41" dy="3.3" text-anchor="end" transform="rotate(401.43 236.38 224.41)">GmaZHD4</text>
<text x="248.71" y="211.12" dy="3.3" text-anchor="end" transform="rotate(404.29 248.71 211.12)">GmaZHD6</text>
<text x="261.69" y="198.46" dy="3.3" text-anchor="end" transform="rotate(407.14 261.69 198.46)">GmaZHD5</text>
<text x="275.28" y="186.47" dy="3.3" text-anchor="end" transform="rotate(410 275.28 186.47)">ZofZHD1</text>
<text x="289.46" y="175.16" dy="3.3" text-anchor="end" transform="rotate(412.86 289.46 175.16)">OsZHD11</text>
<text x="304.18" y="164.58" dy="3.3" text-anchor="end" transform="rotate(415.71 304.18 164.58)">SbiZHD1</text>
<text x="319.41" y="154.74" dy="3.3" text-anchor="end" transform="rotate(418.57 319.41 154.74)">VvZHD5</text>
<text x="335.11" y="145.68" dy="3.3" text-anchor="end" transform="rotate(421.43 335.11 145.68)">VvZDH6</text>
<text x="351.24" y="137.41" dy="3.3" text-anchor="end" transform="rotate(424.29 351.24 137.41)">VvZHD1</text>
<text x="367.77" y="129.95" dy="3.3" text-anchor="end" transform="rotate(427.14 367.77 129.95)">AtZHD13</text>
<text x="384.64" y="123.33" dy="3.3" text-anchor="end" transform="rotate(430 384.64 123.33)">AtZHD14</text>
</g>
</svg></body></html>
